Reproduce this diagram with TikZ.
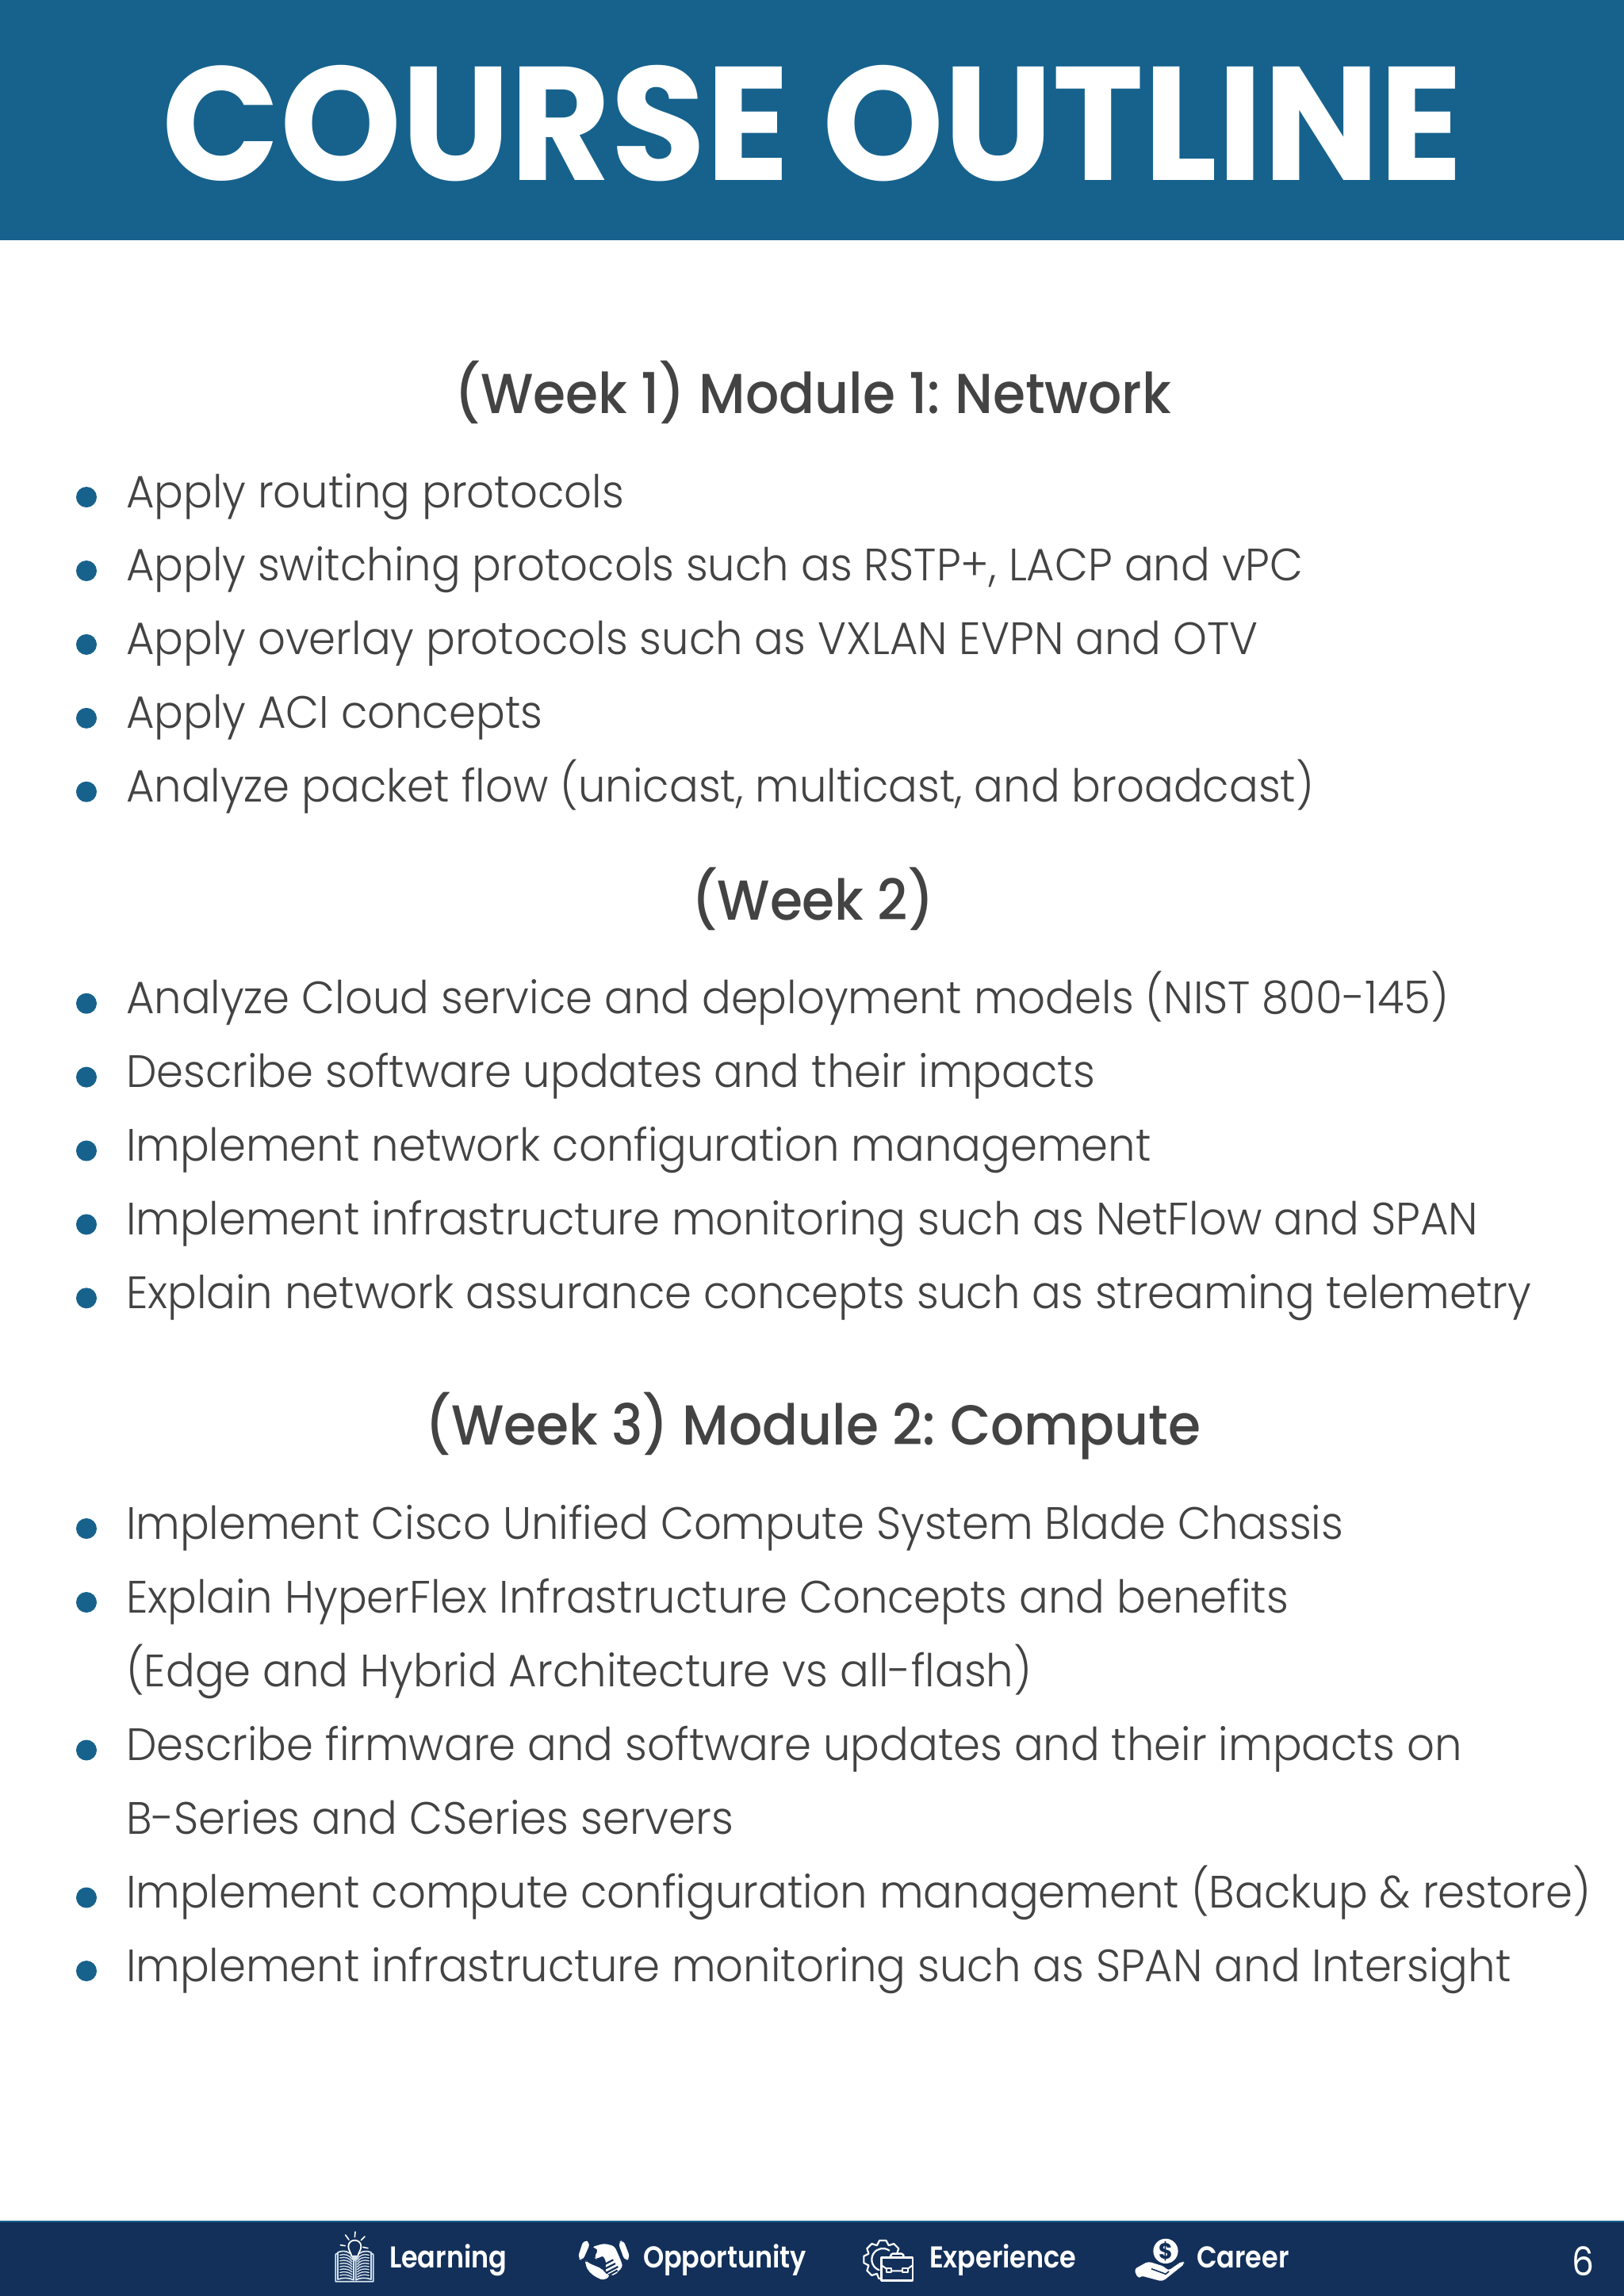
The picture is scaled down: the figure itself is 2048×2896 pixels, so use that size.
\documentclass[tikz,border=0pt]{standalone}
\usepackage{fontspec}
\newfontfamily\popLight{Poppins Light}[FakeStretch=0.9525]
\newfontfamily\popPage{Poppins}[FakeStretch=0.88]
\newfontfamily\popHead{Poppins Medium}[FakeStretch=0.935]
\newfontfamily\popFoot{Poppins SemiBold}[FakeStretch=0.88]
\newfontfamily\popBold{Poppins}[UprightFont=* Bold,FakeStretch=0.955]
\definecolor{headblue}{HTML}{16628D}
\definecolor{footnavy}{HTML}{12305A}
\definecolor{bodygray}{HTML}{434343}
\definecolor{bookpale}{HTML}{D5E2EC}
\tikzset{
  every node/.style={inner sep=0pt,outer sep=0pt},
  bodyline/.style={anchor=base west,text=bodygray,font=\popLight\fontsize{28.6}{34}\selectfont},
  headline/.style={anchor=base,text=bodygray,font=\popHead\fontsize{35.5}{42}\selectfont},
  footlabel/.style={anchor=base west,text=white,font=\popFoot\fontsize{19}{23}\selectfont},
  bulletdot/.style={fill=headblue,draw=none},
  iconline/.style={draw=white,line width=1.4pt,line join=round,line cap=round},
  booklineb/.style={draw=bookpale,line width=.7pt,line cap=round},
}
\begin{document}
\begin{tikzpicture}[x=0.5pt,y=-0.5pt]
\useasboundingbox (0,0) rectangle (2048,2896);
\fill[white] (0,0) rectangle (2048,2896);
\fill[headblue] (0,0) rectangle (2048,303);
\fill[footnavy] (0,2802) rectangle (2048,2896);
\fill[headblue] (0,2801) rectangle (2048,2803);

\node[anchor=base,text=white,font=\popBold\fontsize{102}{120}\selectfont] (title) at (1025,227) {COURSE OUTLINE};

\node[headline] (h1) at (1025.5,521.5) {(Week 1) Module 1:\kern.5pt\ Network};
\node[headline] (h2) at (1025,1160.2) {(Week 2)};
\node[headline] (h3) at (1025.5,1822.7) {(Week 3) Module 2:\kern.5pt\ Compute};

\foreach \yy in {640,733,825.9,918.8,1011.7,1278.7,1371.6,1464.5,1557.4,1650.3,1941,2034,2220.5,2406.5,2499}
  \fill[bulletdot] (109,\yy-13) circle (13);

\node[bodyline] (a1) at (159,640) {Apply routing protocols};
\node[bodyline] (a2) at (159,732.5) {Apply switching protocols such as RSTP+, LACP and vPC};
\node[bodyline] (a3) at (159,825.9) {Apply overlay protocols such as VXLAN EVPN and OTV};
\node[bodyline] (a4) at (159,918.8) {Apply ACI concepts};
\node[bodyline] (a5) at (159,1011.7) {Analyze packet flow (unicast, multicast, and broadcast)};

\node[bodyline] (b1) at (159,1278.7) {Analyze Cloud service and deployment models (NIST 800-145)};
\node[bodyline] (b2) at (159,1371.6) {Describe software updates and their impacts};
\node[bodyline] (b3) at (159,1464.5) {Implement network configuration management};
\node[bodyline] (b4) at (159,1557.4) {Implement infrastructure monitoring such as NetFlow and SPAN};
\node[bodyline] (b5) at (159,1650.3) {Explain network assurance concepts such as streaming telemetry};

\node[bodyline] (c1) at (159,1941) {Implement Cisco Unified Compute System Blade Chassis};
\node[bodyline] (c2) at (159,2034) {Explain HyperFlex Infrastructure Concepts and benefits};
\node[bodyline] (c2b) at (159,2127) {(Edge and Hybrid Architecture vs all-flash)};
\node[bodyline] (c3) at (159,2220.5) {Describe firmware and software updates and their impacts on};
\node[bodyline] (c3b) at (159,2313.5) {B-Series and CSeries servers};
\node[bodyline] (c4) at (159,2406.5) {Implement compute configuration management (Backup \& restore)};
\node[bodyline] (c5) at (159,2499) {Implement infrastructure monitoring such as SPAN and Intersight};

% footer labels
\node[footlabel] (f1) at (491,2860) {Learning};
\node[footlabel] (f2) at (811,2860) {Opportunity};
\node[footlabel] (f3) at (1172,2860) {Experience};
\node[footlabel] (f4) at (1509,2860) {Career};
\node[anchor=base,text=white,font=\popPage\fontsize{25}{30}\selectfont] (pg) at (1996.5,2870) {6};

% Learning icon
\begin{scope}[shift={(410,2805)},scale=0.3333]
  \draw[booklineb,line width=.9pt,line join=round] (45,112) -- (40,115) -- (40,218) -- (182,218) -- (182,115) -- (176,112);
  \draw[booklineb,line width=.9pt,line join=round] (48,210) -- (48,108) .. controls (70,98) and (95,105) .. (108,125) -- (108,212) .. controls (90,203) and (65,203) .. (48,210);
  \draw[booklineb,line width=.9pt,line join=round] (174,210) -- (174,108) .. controls (152,98) and (130,105) .. (116,125) -- (116,212) .. controls (132,203) and (158,203) .. (174,210);
  \foreach \k in {0,...,7}{
    \draw[booklineb] (56,{118+\k*11}) .. controls (75,{112+\k*11}) and (92,{118+\k*11}) .. (102,{134+\k*9.6});
    \draw[booklineb] (166,{118+\k*11}) .. controls (147,{112+\k*11}) and (130,{118+\k*11}) .. (122,{134+\k*9.6});
  }
  \filldraw[fill=footnavy,draw=white,line width=.9pt] (100,122) .. controls (98,108) and (88,100) .. (88,85) .. controls (88,70) and (100,62) .. (112,62) .. controls (124,62) and (136,70) .. (136,85) .. controls (136,100) and (126,108) .. (124,122) -- cycle;
  \fill[bookpale] (100,122) -- (124,122) -- (122,136) -- (112,140) -- (102,136) -- cycle;
  \draw[iconline,line width=.8pt] (114,30) -- (112,50) (77,42) -- (90,60) (150,48) -- (136,62) (58,80) -- (76,83) (143,88) -- (162,92);
\end{scope}

% Opportunity icon
\begin{scope}[shift={(720,2805)},scale=0.3333]
  \fill[white,rounded corners=3pt] (48,60) -- (74,71) -- (44,140) -- (25,130) -- cycle;
  \fill[white,rounded corners=3pt] (198,60) -- (178,70) -- (204,141) -- (225,130) -- cycle;
  % upper hand with thumb
  \fill[white,rounded corners=2pt] (78,88) -- (125,74) -- (165,84) -- (192,146) -- (196,166) -- (178,178) -- (170,192) -- (150,196) -- (128,178) -- (135,150) -- (122,118) -- (98,134) -- (88,128) -- (104,96) -- cycle;
  % lower hand knuckles
  \fill[white,rounded corners=2pt] (56,138) -- (66,148) -- (118,170) -- (124,182) -- (150,196) -- (124,214) -- (100,204) -- (80,192) -- (62,172) -- (54,150) -- cycle;
  \draw[footnavy,line width=1.1pt] (126,154) -- (160,136) (124,172) -- (168,150) (132,186) -- (178,162) (146,192) -- (176,176);
\end{scope}

% Experience icon
\begin{scope}[shift={(1113.3,2850)},scale=0.3333]
  \draw[iconline,line width=1.1pt] (-22.5:58) foreach \a in {45,90,135,180,225} { -- ({-(\a-22.5)}:58) -- ({-(\a-10)}:73) -- ({-(\a+10)}:73) -- ({-(\a+22.5)}:58) } -- (-258:73) -- (-262:73);
  \draw[iconline,line width=1.1pt] (-55:42) arc[start angle=-55,end angle=-250,radius=42];
\end{scope}
\begin{scope}[shift={(1080,2805)},scale=0.3333]
  \filldraw[fill=footnavy,draw=white,line width=1.2pt,line join=round] (95,127) rectangle (213,214);
  \draw[iconline,line width=1.2pt] (130,127) -- (130,118) -- (136,113) -- (172,113) -- (178,118) -- (178,127);
  \draw[iconline,line width=1pt] (97,158) -- (114,170) (133,178) -- (175,178) (194,170) -- (211,158);
  \draw[iconline,line width=1pt] (114,168) rectangle (133,184);
  \draw[iconline,line width=1pt] (175,168) rectangle (194,184);
\end{scope}

% Career icon
\begin{scope}[shift={(1420,2805)},xscale=0.4,yscale=0.3333]
  \fill[white] (125,103) ellipse (39 and 47);
  \node[text=footnavy,font=\popBold\fontsize{14}{16}\selectfont] (dollar) at (125,103) {\$};
  \fill[white,rounded corners=2pt] (25,172) -- (70,142) -- (122,162) -- (132,178) -- (178,140) -- (186,150) -- (115,218) -- (47,196) -- (38,207) -- cycle;
  \draw[footnavy,line width=.8pt] (80,170) -- (125,190) -- (135,180);
\end{scope}
\end{tikzpicture}
\end{document}
